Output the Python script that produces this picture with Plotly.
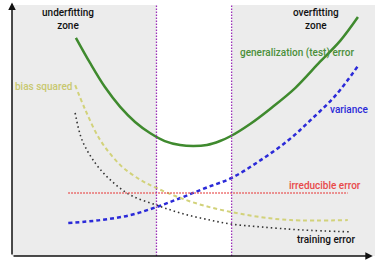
import plotly.graph_objects as go

# model complexity (0-100) and error (0-100)
gen_x = [17.6, 21.5, 25.6, 29.8, 33.9, 38.0, 42.1, 46.3, 49.9, 53.7, 57.3, 60.3, 65.6, 71.1, 78.0, 84.8, 90.4, 95.3]
gen_y = [86.9, 76.9, 67.3, 59.4, 53.4, 49.0, 45.8, 44.2, 43.8, 44.2, 45.8, 47.8, 52.6, 58.6, 66.9, 77.3, 85.7, 95.2]

var_x = [15.5, 24.3, 32.6, 39.8, 46.4, 53.3, 60.5, 68.5, 76.2, 82.3, 89.2, 95.5]
var_y = [13.1, 14.3, 16.3, 19.5, 23.1, 27.1, 31.1, 38.2, 46.2, 54.2, 64.1, 76.1]

bias_x = [17.4, 20.2, 24.3, 29.8, 35.4, 39.8, 46.4, 53.3, 60.5, 68.5, 76.8, 92.5]
bias_y = [68.1, 58.2, 46.2, 36.3, 30.3, 27.1, 23.1, 19.9, 17.5, 15.5, 14.3, 14.3]

train_x = [17.4, 19.3, 22.9, 27.1, 32.6, 39.8, 46.4, 53.3, 60.5, 68.5, 79.6, 93.4]
train_y = [57.0, 46.2, 37.1, 30.3, 24.3, 20.3, 17.1, 14.7, 12.7, 11.6, 10.4, 9.6]

irr_x = [15.5, 92.5]
irr_y = [25.1, 25.1]

zone_bounds = [39.8, 60.5]

FONT = "Roboto, Liberation Sans, Arial, sans-serif"
FS = 10
W = 500

fig = go.Figure()
fig.add_trace(go.Scatter(x=gen_x, y=gen_y, mode="lines", line=dict(color="#3f8a2e", width=2.5, shape="spline", smoothing=1)))
fig.add_trace(go.Scatter(x=var_x, y=var_y, mode="lines", line=dict(color="#2b2ad8", width=2.5, dash="4px,3px", shape="spline")))
fig.add_trace(go.Scatter(x=bias_x, y=bias_y, mode="lines", line=dict(color="#d2d27a", width=2, dash="4px,3px", shape="spline")))
fig.add_trace(go.Scatter(x=train_x, y=train_y, mode="lines", line=dict(color="#333333", width=1.6, dash="1.5px,3px", shape="spline")))
fig.add_trace(go.Scatter(x=irr_x, y=irr_y, mode="lines", line=dict(color="#e84a4a", width=1.5, dash="1.5px,1.5px")))

shapes = [
    dict(type="rect", xref="x", yref="y", x0=0, x1=zone_bounds[0], y0=0, y1=100,
         fillcolor="#ececec", line=dict(width=0), layer="below"),
    dict(type="rect", xref="x", yref="y", x0=zone_bounds[1], x1=100, y0=0, y1=100,
         fillcolor="#ececec", line=dict(width=0), layer="below"),
]
for xb in zone_bounds:
    shapes.append(dict(type="line", xref="x", yref="y", x0=xb, x1=xb, y0=0, y1=101,
                       line=dict(color="#9b30b8", width=1.3, dash="1.5px,1.5px")))

def txt(x, y, s, color, anchor="center"):
    return dict(x=x, y=y, text=s, showarrow=False, xanchor=anchor, align="center",
                font=dict(size=FS, color=color, family=FONT, weight=W))

annotations = [
    # axes arrows
    dict(x=0, y=101, ax=0, ay=0, xref="x", yref="y", axref="x", ayref="y", text="",
         showarrow=True, arrowhead=2, arrowsize=1, arrowwidth=1.5, arrowcolor="#111"),
    dict(x=99.4, y=0, ax=0, ay=0, xref="x", yref="y", axref="x", ayref="y", text="",
         showarrow=True, arrowhead=2, arrowsize=1, arrowwidth=1.5, arrowcolor="#111"),
    txt(7.6, 94.3, "underfitting<br>zone", "#111", "left"),
    txt(76.8, 94.3, "overfitting<br>zone", "#111", "left"),
    txt(78.4, 80.9, "generalization (test) error", "#4a8f3a"),
    txt(8.7, 67.7, "bias squared", "#c8c870"),
    txt(98.9, 58.2, "variance", "#2b2ad8", "right"),
    txt(96.7, 27.9, "irreducible error", "#e84a4a", "right"),
    txt(95.0, 6.4, "training error", "#111", "right"),
    dict(x=50.7, y=-3.6, text="model complexity", showarrow=False, yanchor="middle",
         font=dict(size=FS, color="#111", family=FONT, weight=W)),
    dict(x=-1.9, y=50.5, text="error", showarrow=False, textangle=-90, xanchor="center",
         font=dict(size=FS, color="#111", family=FONT, weight=W)),
]

fig.update_layout(
    width=390, height=277,
    margin=dict(l=12, r=15, t=5, b=21),
    paper_bgcolor="white", plot_bgcolor="white",
    showlegend=False,
    shapes=shapes, annotations=annotations,
    xaxis=dict(range=[0, 100], showgrid=False, zeroline=False, showticklabels=False, ticks=""),
    yaxis=dict(range=[0, 100], showgrid=False, zeroline=False, showticklabels=False, ticks=""),
)

fig.write_html("out.html")
